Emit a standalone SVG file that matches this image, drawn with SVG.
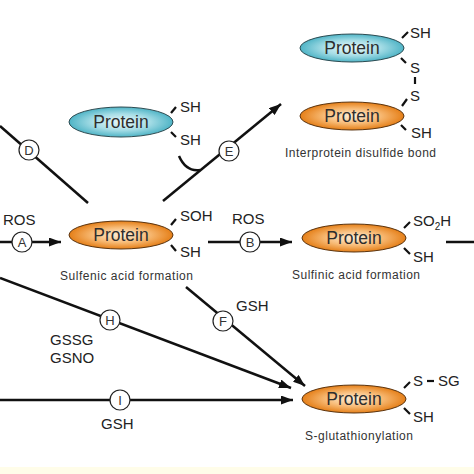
<svg xmlns="http://www.w3.org/2000/svg" width="474" height="474" viewBox="0 0 474 474">
<defs>
<radialGradient id="gb" cx="0.5" cy="0.5" r="0.5">
<stop offset="0" stop-color="#eaf8fa"/>
<stop offset="0.55" stop-color="#a6dde6"/>
<stop offset="1" stop-color="#4fb4c6"/>
</radialGradient>
<radialGradient id="go" cx="0.5" cy="0.5" r="0.5">
<stop offset="0" stop-color="#fff0dc"/>
<stop offset="0.55" stop-color="#f7b973"/>
<stop offset="1" stop-color="#e57f18"/>
</radialGradient>
<marker id="ah" markerWidth="12" markerHeight="9" refX="12" refY="4.5" orient="auto" markerUnits="userSpaceOnUse">
<path d="M0,0 L12,4.5 L0,9 Z" fill="#111"/>
</marker>
<style>
.ln{stroke:#111;stroke-width:2.5;fill:none}
.tk{stroke:#111;stroke-width:2.2;fill:none}
.eb{fill:url(#gb);stroke:#2c4a50;stroke-width:1}
.eo{fill:url(#go);stroke:#5a3410;stroke-width:1}
.pt{font-family:"Liberation Sans",Arial,sans-serif;font-size:17.5px;fill:#2e2e2e;text-anchor:middle}
.lb{font-family:"Liberation Sans",Arial,sans-serif;font-size:15px;fill:#222}
.cap{font-family:"Liberation Sans",Arial,sans-serif;font-size:12px;fill:#333}
.cc{fill:#fff;stroke:#222;stroke-width:1.2}
.ct{font-family:"Liberation Sans",Arial,sans-serif;font-size:13px;fill:#333;text-anchor:middle}
</style>
</defs>
<rect width="474" height="474" fill="#fff"/>
<rect x="0" y="467" width="474" height="7" fill="#fffde9"/>

<g id="connectors">
<line class="ln" x1="0" y1="126" x2="88" y2="203"/>
<line class="ln" x1="163" y1="201" x2="281" y2="104" marker-end="url(#ah)"/>
<path class="ln" d="M179,156 Q186,172 200,170"/>
<line class="ln" x1="0" y1="242" x2="61" y2="242" marker-end="url(#ah)"/>
<line class="ln" x1="208" y1="242" x2="292" y2="242" marker-end="url(#ah)"/>
<line class="ln" x1="446" y1="242" x2="474" y2="242"/>
<line class="ln" x1="186" y1="287" x2="305" y2="386" marker-end="url(#ah)"/>
<line class="ln" x1="0" y1="278" x2="291" y2="388" marker-end="url(#ah)"/>
<line class="ln" x1="0" y1="400" x2="293" y2="400" marker-end="url(#ah)"/>
</g>

<g id="circle-D"><circle class="cc" cx="29" cy="150" r="10"/><text class="ct" x="29" y="154.5">D</text></g>
<g id="circle-E"><circle class="cc" cx="229" cy="151" r="10"/><text class="ct" x="229" y="155.5">E</text></g>
<g id="circle-A"><circle class="cc" cx="22" cy="242" r="10"/><text class="ct" x="22" y="246.5">A</text></g>
<g id="circle-B"><circle class="cc" cx="250" cy="242" r="10"/><text class="ct" x="250" y="246.5">B</text></g>
<g id="circle-H"><circle class="cc" cx="110" cy="320" r="10"/><text class="ct" x="110" y="324.5">H</text></g>
<g id="circle-F"><circle class="cc" cx="223" cy="321" r="10"/><text class="ct" x="223" y="325.5">F</text></g>
<g id="circle-I"><circle class="cc" cx="120" cy="400" r="10"/><text class="ct" x="120" y="404.5">I</text></g>

<g id="labels-reagents">
<text class="lb" x="3" y="225">ROS</text>
<text class="lb" x="232" y="224">ROS</text>
<text class="lb" x="236" y="311">GSH</text>
<text class="lb" x="50" y="345">GSSG</text>
<text class="lb" x="50" y="363">GSNO</text>
<text class="lb" x="101" y="429">GSH</text>
</g>

<g id="node-protein-free">
<ellipse class="eb" cx="121" cy="122" rx="52" ry="15"/>
<text class="pt" x="121" y="128">Protein</text>
<line class="tk" x1="171" y1="113" x2="176" y2="107"/>
<line class="tk" x1="171" y1="132" x2="176" y2="137"/>
<text class="lb" x="180" y="112">SH</text>
<text class="lb" x="180" y="145">SH</text>
</g>

<g id="node-interprotein">
<ellipse class="eb" cx="352" cy="48" rx="52" ry="14"/>
<text class="pt" x="352" y="54">Protein</text>
<ellipse class="eo" cx="352" cy="116" rx="52" ry="14"/>
<text class="pt" x="352" y="122">Protein</text>
<line class="tk" x1="402" y1="38" x2="408" y2="32"/>
<text class="lb" x="410" y="38">SH</text>
<line class="tk" x1="401" y1="58" x2="406" y2="63"/>
<text class="lb" x="410" y="73">S</text>
<line class="tk" x1="415" y1="77" x2="415" y2="84"/>
<text class="lb" x="410" y="101">S</text>
<line class="tk" x1="402" y1="106" x2="407" y2="99"/>
<line class="tk" x1="401" y1="125" x2="406" y2="130"/>
<text class="lb" x="411" y="138">SH</text>
<text class="cap" x="285" y="157" textLength="151" lengthAdjust="spacing">Interprotein disulfide bond</text>
</g>

<g id="node-sulfenic">
<ellipse class="eo" cx="121" cy="235" rx="52" ry="14"/>
<text class="pt" x="121" y="241">Protein</text>
<line class="tk" x1="171" y1="225" x2="176" y2="219"/>
<line class="tk" x1="171" y1="245" x2="176" y2="251"/>
<text class="lb" x="180" y="221">SOH</text>
<text class="lb" x="180" y="257">SH</text>
<text class="cap" x="60" y="280" textLength="133" lengthAdjust="spacing">Sulfenic acid formation</text>
</g>

<g id="node-sulfinic">
<ellipse class="eo" cx="354" cy="238" rx="52" ry="14"/>
<text class="pt" x="354" y="244">Protein</text>
<line class="tk" x1="404" y1="228" x2="410" y2="222"/>
<line class="tk" x1="404" y1="248" x2="410" y2="254"/>
<text class="lb" x="413" y="226">SO<tspan font-size="10" dy="4">2</tspan><tspan dy="-4">H</tspan></text>
<text class="lb" x="413" y="262">SH</text>
<text class="cap" x="292" y="279" textLength="128" lengthAdjust="spacing">Sulfinic acid formation</text>
</g>

<g id="node-glutathionylation">
<ellipse class="eo" cx="354" cy="399" rx="52" ry="14"/>
<text class="pt" x="354" y="405">Protein</text>
<line class="tk" x1="404" y1="388" x2="410" y2="382"/>
<line class="tk" x1="404" y1="408" x2="410" y2="414"/>
<text class="lb" x="413" y="386">S</text>
<line class="tk" x1="427" y1="381" x2="434" y2="381"/>
<text class="lb" x="438" y="386">SG</text>
<text class="lb" x="413" y="422">SH</text>
<text class="cap" x="305" y="440" textLength="108" lengthAdjust="spacing">S-glutathionylation</text>
</g>
</svg>
